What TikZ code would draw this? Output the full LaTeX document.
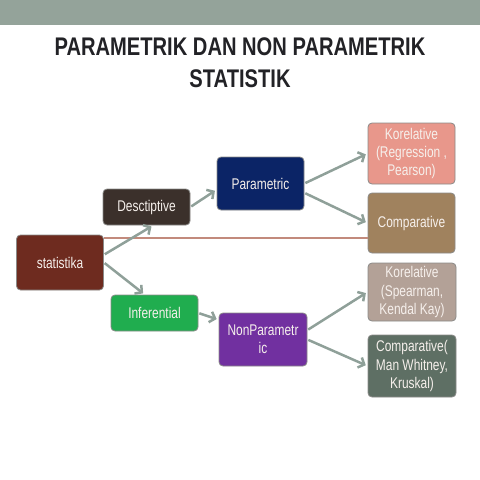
\documentclass[tikz,border=0pt]{standalone}
\usepackage{fontspec}
\setmainfont[FakeStretch=0.77]{Liberation Sans}
\newfontfamily\titlefont[FakeStretch=0.79]{Liberation Sans}
\usetikzlibrary{arrows.meta}

\definecolor{topbar}{HTML}{94A39A}
\definecolor{titletxt}{HTML}{222226}
\definecolor{boxline}{HTML}{8A8A88}
\definecolor{arrgray}{HTML}{8FA099}
\definecolor{redline}{HTML}{C28A7C}
\definecolor{boxtxt}{HTML}{F6F0EC}
\definecolor{cstat}{HTML}{6E2B1F}
\definecolor{cdesc}{HTML}{3B302B}
\definecolor{cinf}{HTML}{20AD4F}
\definecolor{cpar}{HTML}{0B2466}
\definecolor{cnpar}{HTML}{7130A0}
\definecolor{ckorA}{HTML}{E8978B}
\definecolor{ccmpA}{HTML}{A0825E}
\definecolor{ckorB}{HTML}{B3A197}
\definecolor{ccmpB}{HTML}{5E6F64}

\begin{document}
\begin{tikzpicture}[x=1pt, y=-1pt]
    \useasboundingbox (0,0) rectangle (480,480);
    \fill[topbar] (0,0) rectangle (480,25);

    \begin{scope}[head/.style={anchor=base, text=titletxt, font=\titlefont\bfseries\fontsize{25.5}{30}\selectfont}]
        \node[head] (h1) at (240,55) {PARAMETRIK DAN NON PARAMETRIK};
        \node[head] (h2) at (240,87) {STATISTIK};
    \end{scope}

    \begin{scope}[all/.style={draw=boxline, rounded corners=4pt, text=boxtxt, align=center,
        minimum width=87pt, inner sep=1pt, font=\fontsize{15.5}{18.3}\selectfont}, line width=0.8pt]

        \node[all, fill=cstat, minimum height=55pt] (s0) at (60,262.5) {statistika};
        \node[all, fill=cdesc, minimum height=36pt] (d1) at (146.5,207) {Desctiptive};
        \node[all, fill=cinf, minimum height=36pt] (d2) at (154.5,313) {Inferential};

        \node[all, fill=cpar, minimum height=53pt] (p1) at (260.5,183.5) {Parametric};
        \node[all, fill=cnpar, minimum width=88pt, minimum height=53pt] (p2) at (263,339.5) {NonParametr\\ic};

        \node[all, fill=ckorA, minimum height=61pt] (k1) at (411.5,153.5) {Korelative\\(Regression ,\\Pearson)};
        \node[all, fill=ccmpA, minimum height=60pt] (k2) at (411.5,223) {Comparative};
        \node[all, fill=ckorB, minimum width=88pt, minimum height=58pt] (k3) at (412,292) {Korelative\\(Spearman,\\Kendal Kay)};
        \node[all, fill=ccmpB, minimum width=88pt, minimum height=62pt] (k4) at (412,366) {Comparative(\\Man Whitney,\\Kruskal)};

        % separator line
        \coordinate (ly) at (0,238);
        \draw[redline, line width=1.2pt] (s0.east |- ly) -- (k2.west |- ly);

        \begin{scope}[color=arrgray, line width=2.5pt, shorten >=2pt, shorten <=1pt,
            arrows={-{Straight Barb[length=5pt,width=11pt]}}]
        \draw (s0.10) -- (d1.-70);
        \draw (s0.east) -- (d2.118);
        \draw (d1.east) -- (p1.-172);
        \draw (d2.east) -- (p2.156);
        \draw (p1.east) -- (k1.west);
        \draw (p1.-12) -- (k2.west);
        \draw (p2.12) -- (k3.west);
        \draw (p2.east) -- (k4.west);
        \end{scope}
    \end{scope}
\end{tikzpicture}
\end{document}
